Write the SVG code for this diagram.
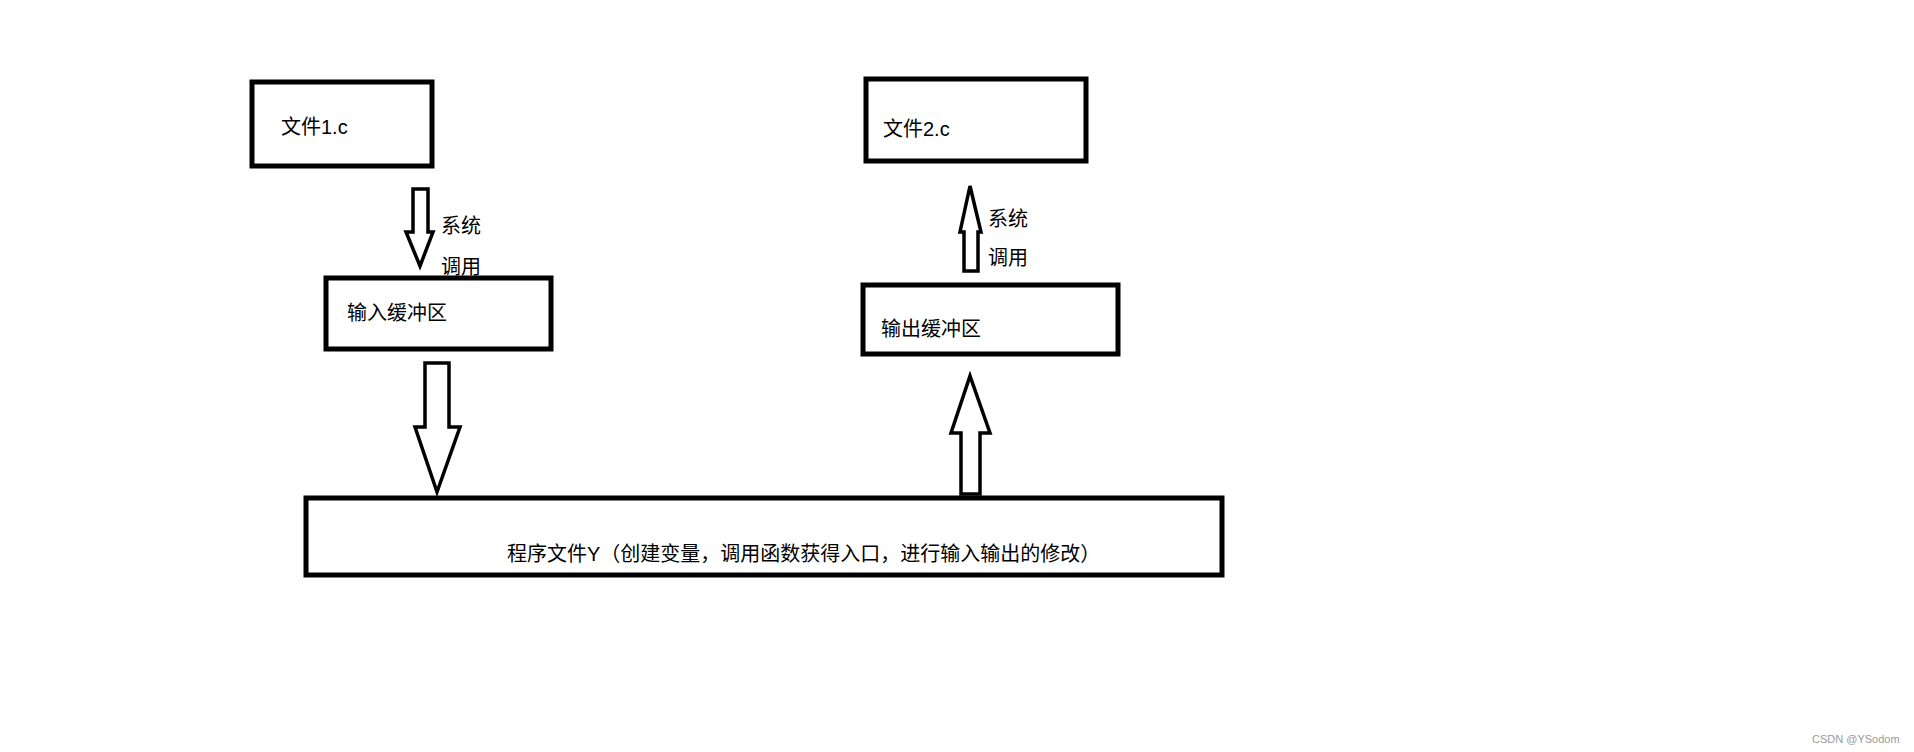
<svg xmlns="http://www.w3.org/2000/svg" width="1914" height="752" viewBox="0 0 1914 752">
<style>
.b{fill:#fff;stroke:#000;stroke-width:5}
.a{fill:#fff;stroke:#000;stroke-width:3.5;stroke-linejoin:miter}
text{font-family:"Liberation Sans","Noto Sans CJK SC",sans-serif;font-size:20px;fill:#000}
</style>
<rect width="1914" height="752" fill="#fff"/>
<g id="file1"><rect class="b" x="252" y="82" width="180" height="84"/><text x="281" y="134">文件1.c</text></g>
<g id="file2"><rect class="b" x="866" y="79" width="220" height="82"/><text x="883" y="136">文件2.c</text></g>
<g id="inbuf"><rect class="b" x="326" y="278" width="225" height="71"/><text x="347" y="320">输入缓冲区</text></g>
<g id="outbuf"><rect class="b" x="863" y="285" width="255" height="69"/><text x="881" y="336">输出缓冲区</text></g>
<g id="prog"><rect class="b" x="306" y="498" width="916" height="77"/><text x="507" y="561">程序文件Y（创建变量，调用函数获得入口，进行输入输出的修改）</text></g>
<g id="connectors">
<polygon class="a" points="413,189 428,189 428,232 433,232 420,266 406,232 413,232"/>
<polygon class="a" points="425,363 449,363 449,427 460,427 437,492 415,427 425,427"/>
<polygon class="a" points="964,271 978,271 978,232 981,232 970,186 960,232 964,232"/>
<polygon class="a" points="961,494 980,494 980,433 990,433 970,376 951,433 961,433"/>
<text x="441" y="233">系统</text><text x="441" y="274">调用</text>
<text x="988" y="226">系统</text><text x="988" y="265">调用</text>
</g>
<text x="1812" y="743" style="font-size:11px;fill:#999">CSDN @YSodom</text>
</svg>
